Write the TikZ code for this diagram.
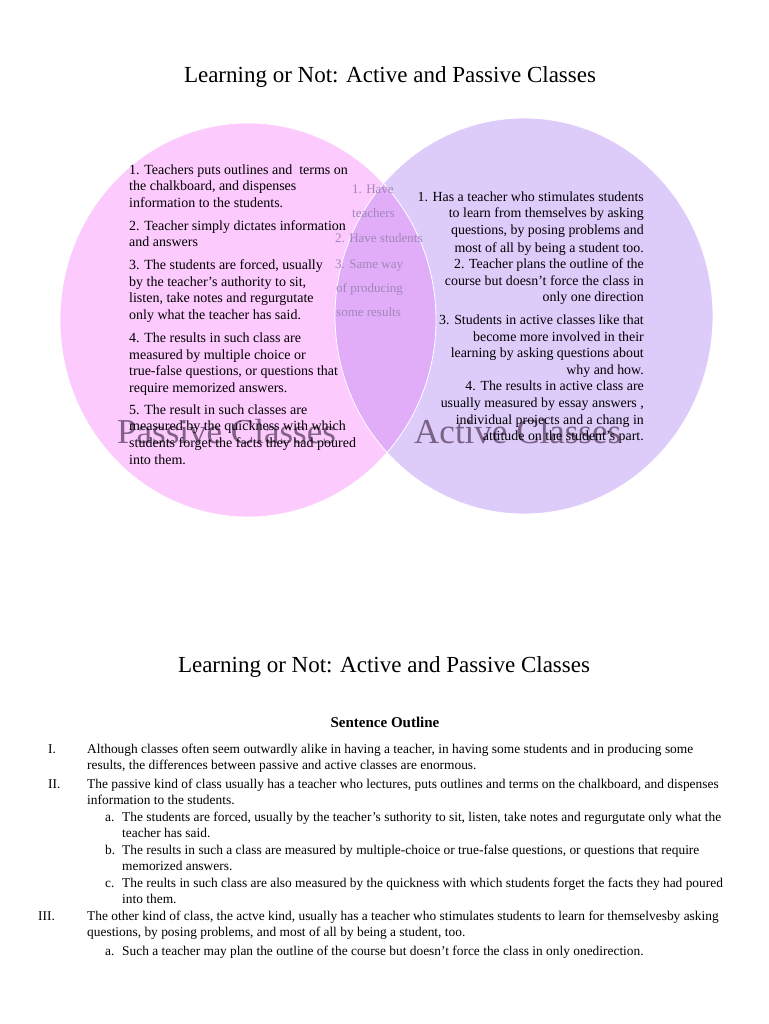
\documentclass[tikz,border=0pt]{standalone}
\usepackage{fontspec}
\setmainfont{Liberation Serif}
\definecolor{pinkc}{HTML}{FCCAFC}
\definecolor{purpc}{HTML}{DDCBFA}
\definecolor{overc}{HTML}{E1ADF9}
\definecolor{midc}{HTML}{A285BA}
\definecolor{bigc}{HTML}{6C4F72}
\begin{document}
\begin{tikzpicture}[x=1pt,y=-1pt,
  ln/.style={inner sep=0pt, anchor=base west, font=\fontsize{14}{16}\selectfont},
  lnr/.style={inner sep=0pt, anchor=base east, font=\fontsize{13.9}{16}\selectfont},
  mid/.style={inner sep=0pt, anchor=base west, font=\fontsize{13}{14}\selectfont, text=midc},
  bigl/.style={inner sep=0pt, anchor=base west, font=\fontsize{35}{40}\selectfont, text=bigc, opacity=0.85},
  titl/.style={inner sep=0pt, anchor=base, font=\fontsize{23}{26}\selectfont},
  outl/.style={inner sep=0pt, anchor=base west, font=\fontsize{13.4}{15}\selectfont},
  edge/.style={draw=white, line width=0.8pt}]
\useasboundingbox (0,0) rectangle (768,1024);
\fill[white] (0,0) rectangle (768,1024);
% circles
\fill[pinkc] (248,320) ellipse [x radius=188, y radius=197];
\fill[purpc] (524,316) ellipse [x radius=189, y radius=198];
\begin{scope}
  \clip (248,320) ellipse [x radius=188, y radius=197];
  \fill[overc] (524,316) ellipse [x radius=189, y radius=198];
\end{scope}
\draw[edge] (248,320) ellipse [x radius=188, y radius=197];
\draw[edge] (524,316) ellipse [x radius=189, y radius=198];
% titles
\node[titl] (t1) at (390,83) {Learning or Not: Active and Passive Classes};
\node[titl] (t2) at (384,672) {Learning or Not: Active and Passive Classes};
% big labels
\node[bigl] (pc) at (117,443) {Passive Classes};
\node[bigl] (ac) at (414,443) {Active Classes};
% left circle text
\foreach \y/\t [count=\i] in {
  175/{1. Teachers puts outlines and\ \ terms on},
  191/{the chalkboard, and dispenses},
  208/{information to the students.},
  230/{2. Teacher simply dictates information},
  246/{and answers},
  269/{3. The students are forced, usually},
  286/{by the teacher’s authority to sit,},
  302/{listen, take notes and regurgutate},
  319/{only what the teacher has said.},
  342/{4. The results in such class are},
  359/{measured by multiple choice or},
  375/{true-false questions, or questions that},
  392/{require memorized answers.},
  414/{5. The result in such classes are},
  430/{measured by the quickness with which},
  447/{students forget the facts they had poured},
  464/{into them.}}
  \node[ln] (L\i) at (129,\y) {\t};
% middle text
\foreach \x/\y/\t [count=\i] in {
  352/194/{1. Have},
  352/218/{teachers},
  335/243/{2. Have students},
  335/268/{3. Same way},
  336/292/{of producing},
  336/316/{some results}}
  \node[mid] (M\i) at (\x,\y) {\t};
% right circle text
\foreach \y/\t [count=\i] in {
  202/{1. Has a teacher who stimulates students},
  218/{to learn from themselves by asking},
  235/{questions, by posing problems and},
  252/{most of all by being a student too.},
  268/{2. Teacher plans the outline of the},
  285/{course but doesn’t force the class in},
  301/{only one direction},
  324/{3. Students in active classes like that},
  341/{become more involved in their},
  357/{learning by asking questions about},
  374/{why and how.},
  390/{4. The results in active class are},
  407/{usually measured by essay answers ,},
  424/{individual projects and a chang in},
  440/{attitude on the student’s part.}}
  \node[lnr] (R\i) at (644,\y) {\t};
% sentence outline
\node[inner sep=0pt, anchor=base, font=\fontsize{15}{18}\bfseries] (so) at (385,727) {Sentence Outline};
\foreach \x/\y/\t [count=\i] in {
  48/753/{I.},
  48/788/{II.},
  105/821/{a.},
  105/854/{b.},
  105/887/{c.},
  38/920/{III.},
  105/955/{a.}}
  \node[outl] (N\i) at (\x,\y) {\t};
\foreach \x/\y/\t [count=\i] in {
  87/753/{Although classes often seem outwardly alike in having a teacher, in having some students and in producing some},
  87/769/{results, the differences between passive and active classes are enormous.},
  87/788/{The passive kind of class usually has a teacher who lectures, puts outlines and terms on the chalkboard, and dispenses},
  87/804/{information to the students.},
  122/821/{The students are forced, usually by the teacher’s suthority to sit, listen, take notes and regurgutate only what the},
  122/837/{teacher has said.},
  122/854/{The results in such a class are measured by multiple-choice or true-false questions, or questions that require},
  122/870/{memorized answers.},
  122/887/{The reults in such class are also measured by the quickness with which students forget the facts they had poured},
  122/903/{into them.},
  87/920/{The other kind of class, the actve kind, usually has a teacher who stimulates students to learn for themselvesby asking},
  87/936/{questions, by posing problems, and most of all by being a student, too.},
  122/955/{Such a teacher may plan the outline of the course but doesn’t force the class in only onedirection.}}
  \node[outl] (O\i) at (\x,\y) {\t};
\end{tikzpicture}
\end{document}
